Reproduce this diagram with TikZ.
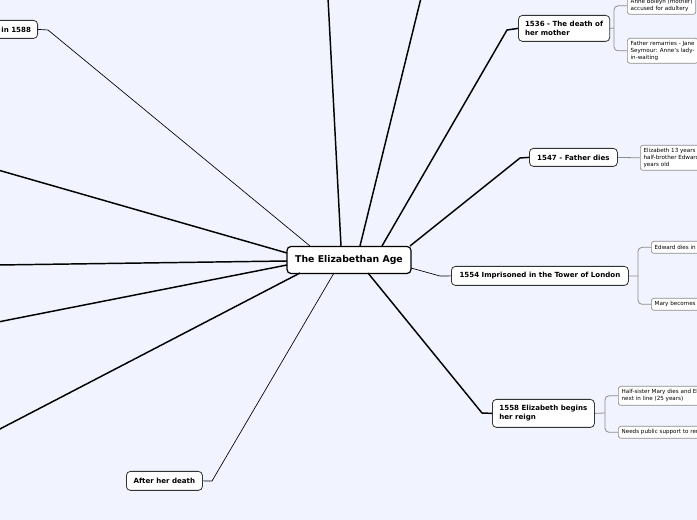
\documentclass[tikz,border=0pt]{standalone}
\usepackage{fontspec}
\setmainfont{DejaVu Sans}
\begin{document}
\begin{tikzpicture}[x=0.75pt,y=-0.75pt,
 main/.style={draw=black,line width=0.9pt,rounded corners=3pt,fill=white,font=\fontsize{7}{8}\selectfont\bfseries,inner sep=0pt,anchor=north west,align=left},
 sub/.style={draw=black!80,line width=0.6pt,rounded corners=3pt,fill=white,font=\fontsize{5.3}{6.5}\selectfont\bfseries,inner ysep=0pt,inner xsep=5pt,anchor=north west,align=left},
 leaf/.style={draw=black!45,line width=0.5pt,rounded corners=2pt,fill=white,font=\fontsize{4.2}{5.2}\selectfont,inner ysep=0pt,inner xsep=2.5pt,anchor=north west,align=left},
 thick/.style={line width=1.1pt},
 thin/.style={line width=0.5pt},
 brk/.style={draw=black!45,line width=0.6pt,rounded corners=3pt}]
\fill[fill={rgb,255:red,241;green,244;blue,254}] (0,0) rectangle (697,520);
\clip (0,0) rectangle (697,520);
\node[main,minimum width=124*0.75pt,minimum height=27*0.75pt,align=center,anchor=center] (c) at (349,260) {The Elizabethan Age};
\node[sub,minimum height=18*0.75pt,anchor=north east] (a) at (38,20) {Armada in 1588};
\node[sub,minimum width=85*0.75pt,minimum height=26*0.75pt] (b1) at (518,15) {1536 - The death of\\her mother};
\node[sub,minimum width=88*0.75pt,minimum height=18*0.75pt,align=center] (b2) at (529,148) {1547 - Father dies};
\node[sub,minimum width=177*0.75pt,minimum height=19*0.75pt,align=center] (b3) at (451,266) {1554 Imprisoned in the Tower of London};
\node[sub,minimum width=102*0.75pt,minimum height=28*0.75pt] (b4) at (492,399) {1558 Elizabeth begins\\her reign};
\node[sub,minimum width=76*0.75pt,minimum height=19*0.75pt,align=center] (d) at (126,471) {After her death};
% leaves
\node[leaf,minimum height=17*0.75pt] (l1) at (627,-3) {Anne Boleyn (mother)\\accused for adultery};
\node[leaf,minimum height=25*0.75pt] (l2) at (627,38) {Father remarries - Jane\\Seymour: Anne's lady-\\in-waiting};
\node[leaf,minimum height=25*0.75pt] (l3) at (640,145) {Elizabeth 13 years\\half-brother Edward 9\\years old};
\node[leaf,minimum height=12*0.75pt] (l4) at (651,241) {Edward dies in 1553};
\node[leaf,minimum height=12*0.75pt] (l5) at (651,298) {Mary becomes queen};
\node[leaf,minimum height=19*0.75pt] (l6) at (618,386) {Half-sister Mary dies and Elizabeth is\\next in line (25 years)};
\node[leaf,minimum height=12*0.75pt] (l7) at (618,426) {Needs public support to remain queen};
% central connectors
\coordinate (t1) at (328,-2); \coordinate (t2) at (421,-2);
\coordinate (w1) at (-2,170); \coordinate (w2) at (-2,265);
\coordinate (w3) at (-2,322); \coordinate (w4) at (-2,430);
\draw[thick] (341,246) -- (t1);
\draw[thick] (360,246) -- (t2);
\draw[thick] (287,253) -- (w1);
\draw[thick] (287,261) -- (w2);
\draw[thick] (287,265) -- (w3);
\draw[thick] (300,273) -- (w4);
\draw[thin] (310,246) -- (48,30) -- (a.east);
\draw[thick] (382,246) -- (507,30) -- (b1.west);
\draw[thick] (410,246) -- (520,158) -- (b2.west);
\draw[thin] (411,268) -- (440,276) -- (b3.west);
\draw[thick] (368,273) -- (482,413) -- (b4.west);
\draw[thin] (334,273) -- (212,481) -- (d.east);
% brackets
\draw[brk] (b1.east) -- (614,28); \draw[brk] (614,28) |- (l1.west); \draw[brk] (614,28) |- (l2.west);
\draw[brk] (b2.east) -- (l3.west);
\draw[brk] (b3.east) -- (638,276); \draw[brk] (638,276) |- (l4.west); \draw[brk] (638,276) |- (l5.west);
\draw[brk] (b4.east) -- (605,413); \draw[brk] (605,413) |- (l6.west); \draw[brk] (605,413) |- (l7.west);
\end{tikzpicture}
\end{document}
